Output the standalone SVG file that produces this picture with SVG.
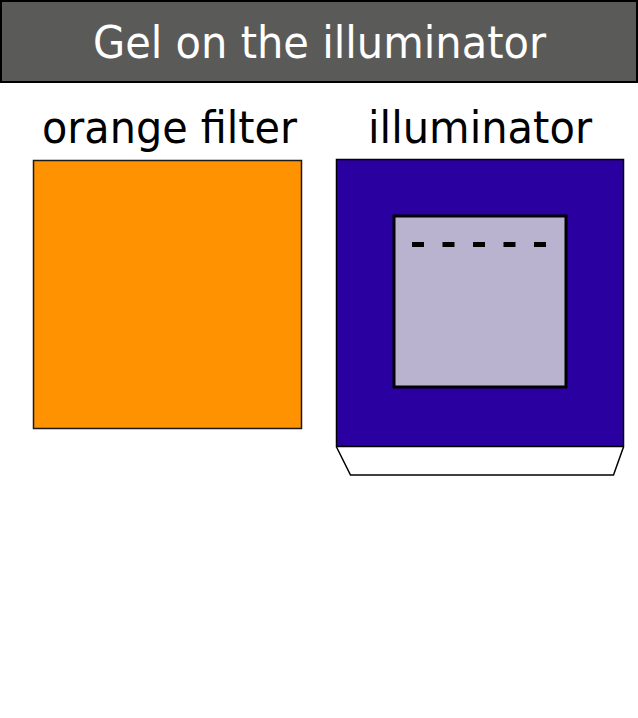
<svg xmlns="http://www.w3.org/2000/svg" width="638" height="718" viewBox="0 0 638 718">
<style>
text{font-family:"DejaVu Sans","Liberation Sans",sans-serif}
.title{font-size:44px;fill:#ffffff}
.label{font-size:44px;fill:#000000}
.dash{fill:#000000}
</style>
<rect width="638" height="718" fill="#ffffff"/>
<g id="header">
<rect x="1" y="1" width="636" height="81" fill="#5a5a59" stroke="#000000" stroke-width="2"/>
<text class="title" x="93" y="58" textLength="453" lengthAdjust="spacingAndGlyphs">Gel on the illuminator</text>
</g>
<g id="orange-filter">
<text class="label" x="42" y="143" textLength="255" lengthAdjust="spacingAndGlyphs">orange filter</text>
<rect x="33.5" y="160.5" width="268" height="268" fill="#ff9200" stroke="#1a1a1a" stroke-width="1.5"/>
</g>
<g id="illuminator">
<text class="label" x="368" y="143" textLength="224" lengthAdjust="spacingAndGlyphs">illuminator</text>
<path d="M336.5 447 L350.5 475 L613.5 475 L623.5 447" fill="#ffffff" stroke="#000000" stroke-width="1.5"/>
<rect x="336.5" y="159.5" width="287" height="287" fill="#2b00a0" stroke="#000000" stroke-width="1.5"/>
<rect x="394" y="216" width="172" height="171" fill="#bab3cf" stroke="#000000" stroke-width="3"/>
<g id="wells">
<rect class="dash" x="412" y="242" width="12" height="5"/>
<rect class="dash" x="442.5" y="242" width="12" height="5"/>
<rect class="dash" x="473" y="242" width="12" height="5"/>
<rect class="dash" x="503.5" y="242" width="12" height="5"/>
<rect class="dash" x="534" y="242" width="12" height="5"/>
</g>
</g>
<g id="connectors"/>
</svg>
